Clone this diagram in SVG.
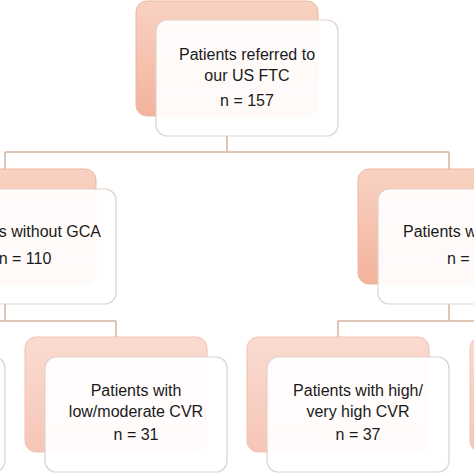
<svg xmlns="http://www.w3.org/2000/svg" width="474" height="474" viewBox="0 0 474 474">
<defs>
<linearGradient id="g1" x1="0" y1="0" x2="0" y2="1">
<stop offset="0" stop-color="#f9d2c2"/>
<stop offset="1" stop-color="#f3b39c"/>
</linearGradient>
<linearGradient id="g2" x1="0" y1="0" x2="0" y2="1">
<stop offset="0" stop-color="#fadbd0"/>
<stop offset="1" stop-color="#f6c6b7"/>
</linearGradient>
<style>
.back{fill:url(#g1);stroke:#eab6a4;stroke-width:1}
.back2{fill:url(#g2);stroke:#efc3b5;stroke-width:1}
.front{fill:#ffffff;fill-opacity:0.93;stroke:#dfd2cc;stroke-width:1.2}
.t{font-family:"Liberation Sans",Arial,sans-serif;font-size:16px;fill:#1a1a1a;text-anchor:middle}
.c{fill:none;stroke:#d6b2a3;stroke-width:1.5}
</style>
</defs>
<rect width="474" height="474" fill="#ffffff"/>
<g id="connectors">
<path class="c" d="M227 136V152M5 152H449M5 152V169M449 152V169"/>
<path class="c" d="M5 304V321M-106 321H116M116 321V337M-106 321V337"/>
<path class="c" d="M449 304V321M338 321H560M338 321V337M560 321V337"/>
</g>
<g id="n_root">
<rect class="back" x="136" y="1" width="182" height="115" rx="11"/>
<rect class="front" x="156" y="20" width="182" height="116" rx="11"/>
<text class="t" x="247" y="60">Patients referred to</text>
<text class="t" x="247" y="81">our US FTC</text>
<text class="t" x="247" y="106">n = 157</text>
</g>
<g id="n_without">
<rect class="back" x="-86" y="169" width="182" height="115" rx="11"/>
<rect class="front" x="-66" y="189" width="182" height="115" rx="11"/>
<text class="t" x="101" y="237" style="text-anchor:end">s without GCA</text>
<text class="t" x="25" y="264">n = 110</text>
</g>
<g id="n_with">
<rect class="back" x="358" y="169" width="182" height="115" rx="11"/>
<rect class="front" x="378" y="189" width="182" height="115" rx="11"/>
<text class="t" x="403" y="237" style="text-anchor:start">Patients w</text>
<text class="t" x="447" y="264" style="text-anchor:start">n =</text>
</g>
<g id="n_b1">
<rect class="back2" x="-197" y="337" width="182" height="115" rx="11"/>
<rect class="front" x="-177" y="357" width="182" height="115" rx="11"/>
</g>
<g id="n_b2">
<rect class="back2" x="25" y="337" width="182" height="115" rx="11"/>
<rect class="front" x="45" y="357" width="182" height="115" rx="11"/>
<text class="t" x="136" y="396">Patients with</text>
<text class="t" x="136" y="417">low/moderate CVR</text>
<text class="t" x="136" y="440">n = 31</text>
</g>
<g id="n_b3">
<rect class="back2" x="247" y="337" width="182" height="115" rx="11"/>
<rect class="front" x="267" y="357" width="182" height="115" rx="11"/>
<text class="t" x="358" y="396">Patients with high/</text>
<text class="t" x="358" y="417">very high CVR</text>
<text class="t" x="358" y="440">n = 37</text>
</g>
<g id="n_b4">
<rect class="back2" x="470" y="337" width="182" height="115" rx="11"/>
<rect class="front" x="490" y="357" width="182" height="115" rx="11"/>
</g>
</svg>
